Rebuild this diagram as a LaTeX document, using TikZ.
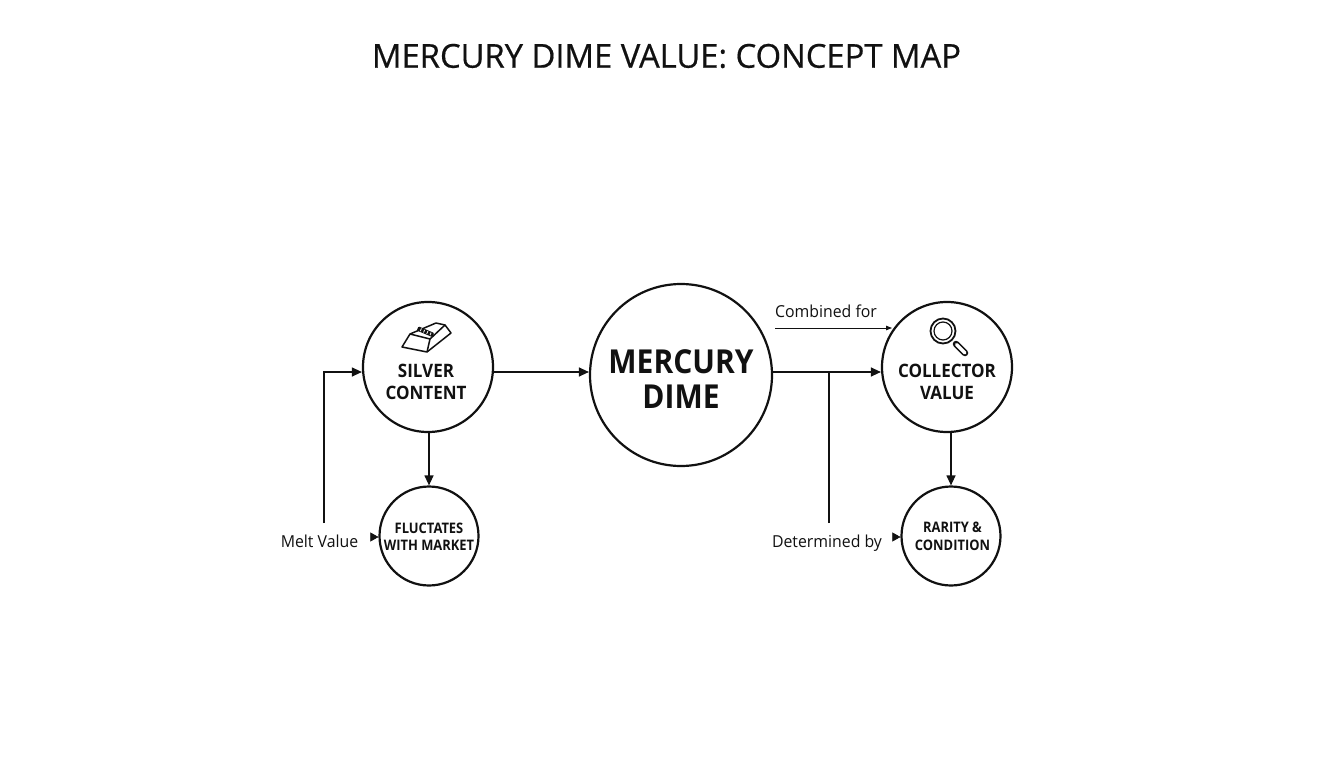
\documentclass[tikz,border=0pt]{standalone}
\usepackage{fontspec}
\setmainfont{Open Sans}
\newfontfamily\titlefont[FakeBold=0.5,FakeStretch=0.992]{Open Sans}
\newfontfamily\labelfont[FakeStretch=0.96]{Open Sans}
\newfontfamily\boldnarrow[FakeStretch=0.92]{Open Sans Bold}
\newfontfamily\boldsmall[FakeStretch=0.89]{Open Sans Bold}
\newfontfamily\boldlarge[FakeStretch=0.908]{Open Sans Bold}
\usetikzlibrary{arrows.meta,calc}
\definecolor{ink}{HTML}{111111}
\tikzset{
  x=1pt,y=-1pt,
  every node/.style={text=ink},
  bigcircle/.style={circle,draw=ink,line width=2.2pt,inner sep=0pt,fill=white},
  nodetext/.style={align=center,inner sep=0pt},
  edgelabel/.style={inner sep=0pt,anchor=base,font=\labelfont\fontsize{16.5}{19}\selectfont},
  link/.style={draw=ink,line width=1.2pt,-{Triangle[length=10pt,width=9pt]}},
  plainlink/.style={draw=ink,line width=1.2pt},
  thinlink/.style={draw=ink,line width=0.9pt,-{Triangle[length=6pt,width=4.5pt]}},
  stub/.style={draw=ink,line width=0.5pt,-{Triangle[length=8pt,width=9pt]}},
  icon/.style={draw=ink,line width=1.5pt,line join=round}
}
\begin{document}
\begin{tikzpicture}
\useasboundingbox[fill=white] (0,0) rectangle (1344,768);
\node[inner sep=0pt,font=\titlefont\fontsize{33}{38}\selectfont] (title) at (666.5,56) {MERCURY DIME VALUE: CONCEPT MAP};

\node[bigcircle,minimum size=130pt] (silver) at (428,367) {};
\node[bigcircle,minimum size=182pt] (dime) at (681,375) {};
\node[bigcircle,minimum size=130pt] (collector) at (947,367) {};
\node[bigcircle,minimum size=99pt] (fluct) at (429,536) {};
\node[bigcircle,minimum size=99pt] (rarity) at (951,536) {};

\node[nodetext,font=\boldnarrow\fontsize{18.5}{21.5}\selectfont] (silvertext) at (426,382) {SILVER\\CONTENT};
\node[nodetext,font=\boldlarge\fontsize{33}{35.5}\selectfont] (dimetext) at (681,379) {MERCURY\\DIME};
\node[nodetext,font=\boldnarrow\fontsize{18.5}{21.5}\selectfont] (collectortext) at (947,382) {COLLECTOR\\VALUE};
\node[nodetext,font=\boldsmall\fontsize{14.5}{17.5}\selectfont] (flucttext) at (429,536.5) {FLUCTATES\\WITH MARKET};
\node[nodetext,font=\boldsmall\fontsize{14.5}{17.5}\selectfont] (raritytext) at (952.5,536.5) {RARITY \&\\CONDITION};

\node[edgelabel] (melt) at (319.5,547) {Melt Value};
\node[edgelabel] (determined) at (827,547) {Determined by};
\node[edgelabel] (combined) at (826,317) {Combined for};

% connectors
\coordinate (meltup) at (324,523);
\coordinate (branch) at (829,372);
\coordinate (detup) at (829,523);
\coordinate (combstart) at (775,328);
\coordinate (combend) at (892,328);
\coordinate (meltstub) at (372,537);
\coordinate (detstub) at (894,537);

\draw[link] (silver.east |- branch) -- (dime.west |- branch);
\draw[link] (dime.east |- branch) -- (collector.west |- branch);
\draw[plainlink] (detup) -- (branch);
\draw[link] (meltup) |- (silver.west |- branch);
\draw[thinlink] (combstart) -- (combend);
\draw[link] (fluct.north |- silver.south) -- (fluct.north);
\draw[link] (rarity.north |- collector.south) -- (rarity.north);
\draw[stub] (meltstub) -- (fluct.west |- meltstub);
\draw[stub] (detstub) -- (rarity.west |- detstub);

% silver bar icon
\draw[icon] (410,334) -- (436,323) -- (445,325) -- (451,333) -- (427,352) -- (402,347) -- cycle;
\draw[icon] (410,334) -- (430,339) -- (445,325);
\draw[icon] (430,339) -- (427,352);
\begin{scope}[rotate around={-23:(425.5,331.7)}]
  \fill[ink,rounded corners=1pt] (417,329.5) rectangle (434,334);
  \foreach \tx in {420.5,424,427.5,431}
    \draw[white,line width=0.8pt] (\tx,330.3) -- (\tx,333.2);
\end{scope}
% magnifier icon
\draw[icon,line width=1.8pt] (943,331) circle (12.5);
\draw[icon,line width=1.2pt] (943,331) circle (9);
\draw[draw=ink,line width=6.5pt,line cap=round] (956,344) -- (965,353);
\draw[draw=white,line width=3.5pt,line cap=round] (956.5,344.5) -- (965,353);
\end{tikzpicture}
\end{document}
